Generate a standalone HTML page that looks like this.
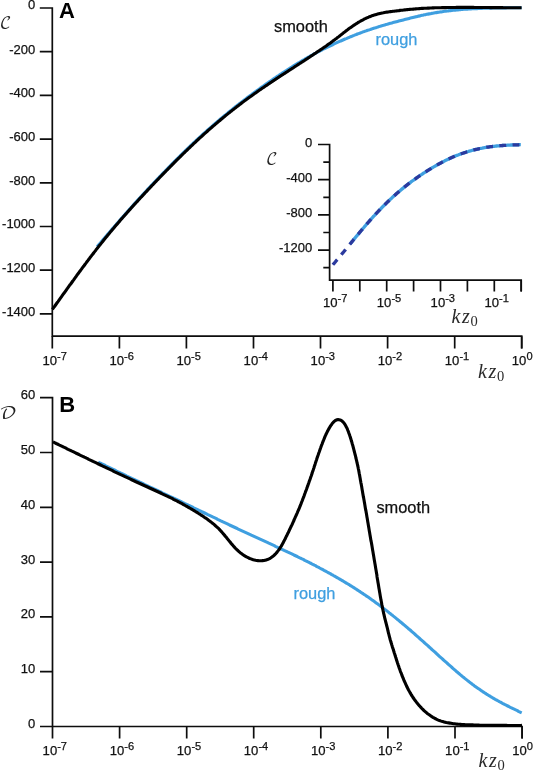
<!DOCTYPE html>
<html lang="en"><head><meta charset="utf-8"><title>Figure</title>
<style>
html,body{margin:0;padding:0;background:#fff;overflow:hidden;}
svg{display:block;}
text{font-family:"Liberation Sans",sans-serif;fill:#111;stroke:#111;stroke-width:0.25px;}
.tk{font-size:13px;}
.tx{font-size:13.1px;}
.sup{font-size:11.1px;}
.lab{font-size:16.4px;}
.pan{font-size:22px;font-weight:bold;fill:#000;stroke:none;}
.math{stroke:none;font-family:"Liberation Serif","DejaVu Serif",serif;font-style:italic;font-size:20px;fill:#2a2a2a;}
.cal{stroke:none;font-family:"DejaVu Math TeX Gyre","DejaVu Serif",serif;font-size:16px;fill:#222;}
.ax{stroke:#0d0d0d;stroke-width:1.7;fill:none;}
.cv{fill:none;stroke-linejoin:round;}
</style></head><body>
<svg width="533" height="771" viewBox="0 0 533 771">
<rect width="533" height="771" fill="#fff"/>

<g id="panelA">
<path class="ax" d="M39.8 8.0 H52.3 V336.2 H521.7 V348.4"/>
<path class="ax" d="M39.8 51.7 H52.3 M39.8 95.4 H52.3 M39.8 139.1 H52.3 M39.8 182.8 H52.3 M39.8 226.5 H52.3 M39.8 270.2 H52.3 M39.8 313.9 H52.3 M52.3 336.2 V348.4 M119.4 336.2 V348.4 M186.4 336.2 V348.4 M253.5 336.2 V348.4 M320.5 336.2 V348.4 M387.6 336.2 V348.4 M454.7 336.2 V348.4 M521.7 336.2 V348.4 "/>
<text class="tk" x="35.3" y="9.4" text-anchor="end">0</text>
<text class="tk" x="35.3" y="53.6" text-anchor="end">-200</text>
<text class="tk" x="35.3" y="97.3" text-anchor="end">-400</text>
<text class="tk" x="35.3" y="141.0" text-anchor="end">-600</text>
<text class="tk" x="35.3" y="184.7" text-anchor="end">-800</text>
<text class="tk" x="35.3" y="228.4" text-anchor="end">-1000</text>
<text class="tk" x="35.3" y="272.1" text-anchor="end">-1200</text>
<text class="tk" x="35.3" y="315.8" text-anchor="end">-1400</text>
<text class="tx" x="42.4" y="364.6">10<tspan class="sup" dy="-4.8">-7</tspan></text>
<text class="tx" x="109.5" y="364.6">10<tspan class="sup" dy="-4.8">-6</tspan></text>
<text class="tx" x="176.5" y="364.6">10<tspan class="sup" dy="-4.8">-5</tspan></text>
<text class="tx" x="243.6" y="364.6">10<tspan class="sup" dy="-4.8">-4</tspan></text>
<text class="tx" x="310.6" y="364.6">10<tspan class="sup" dy="-4.8">-3</tspan></text>
<text class="tx" x="377.7" y="364.6">10<tspan class="sup" dy="-4.8">-2</tspan></text>
<text class="tx" x="444.8" y="364.6">10<tspan class="sup" dy="-4.8">-1</tspan></text>
<text class="tx" x="511.8" y="364.6">10<tspan class="sup" dy="-4.8">0</tspan></text>
<path class="cv" d="M97.1 246.7 L97.9 245.8 L98.7 244.9 L99.5 244.0 L100.3 243.1 L101.0 242.2 L101.8 241.2 L102.6 240.3 L103.4 239.4 L104.2 238.5 L105.0 237.6 L105.7 236.7 L106.5 235.7 L107.3 234.8 L108.1 233.9 L108.9 233.0 L109.7 232.1 L110.4 231.2 L111.2 230.3 L112.0 229.3 L112.8 228.4 L113.6 227.5 L114.4 226.6 L115.2 225.7 L116.0 224.8 L116.7 223.9 L117.5 223.0 L118.3 222.1 L119.1 221.1 L119.9 220.2 L120.7 219.3 L121.5 218.4 L122.3 217.5 L123.1 216.6 L123.9 215.7 L124.7 214.8 L125.5 213.9 L126.3 213.0 L127.1 212.1 L127.9 211.2 L128.7 210.3 L129.5 209.4 L130.3 208.5 L131.1 207.6 L131.9 206.7 L132.7 205.8 L133.5 204.9 L134.3 204.0 L135.1 203.1 L135.9 202.2 L136.7 201.3 L137.5 200.4 L138.3 199.6 L139.2 198.7 L140.0 197.8 L140.8 196.9 L141.6 196.0 L142.4 195.1 L143.2 194.2 L144.0 193.3 L144.9 192.5 L145.7 191.6 L146.5 190.7 L147.3 189.8 L148.1 188.9 L149.0 188.0 L149.8 187.2 L150.6 186.3 L151.4 185.4 L152.3 184.5 L153.1 183.7 L153.9 182.8 L154.8 181.9 L155.6 181.0 L156.4 180.2 L157.2 179.3 L158.1 178.4 L158.9 177.6 L159.7 176.7 L160.6 175.8 L161.4 175.0 L162.2 174.1 L163.1 173.2 L163.9 172.4 L164.8 171.5 L165.6 170.6 L166.4 169.8 L167.3 168.9 L168.1 168.0 L169.0 167.2 L169.8 166.3 L170.7 165.5 L171.5 164.6 L172.3 163.7 L173.2 162.9 L174.0 162.0 L174.9 161.2 L175.7 160.3 L176.6 159.5 L177.4 158.6 L178.3 157.8 L179.1 156.9 L180.0 156.1 L180.9 155.2 L181.7 154.4 L182.6 153.5 L183.4 152.7 L184.3 151.9 L185.1 151.0 L186.0 150.2 L186.9 149.3 L187.7 148.5 L188.6 147.7 L189.5 146.8 L190.3 146.0 L191.2 145.2 L192.1 144.3 L193.0 143.5 L193.8 142.7 L194.7 141.9 L195.6 141.1 L196.5 140.2 L197.4 139.4 L198.2 138.6 L199.1 137.8 L200.0 137.0 L200.9 136.2 L201.8 135.3 L202.7 134.5 L203.6 133.7 L204.5 132.9 L205.4 132.1 L206.3 131.3 L207.2 130.5 L208.1 129.7 L209.0 128.9 L209.9 128.1 L210.8 127.3 L211.7 126.6 L212.6 125.8 L213.5 125.0 L214.4 124.2 L215.3 123.4 L216.2 122.6 L217.1 121.8 L218.1 121.1 L219.0 120.3 L219.9 119.5 L220.8 118.7 L221.7 118.0 L222.7 117.2 L223.6 116.4 L224.5 115.6 L225.5 114.9 L226.4 114.1 L227.3 113.4 L228.2 112.6 L229.2 111.8 L230.1 111.1 L231.1 110.3 L232.0 109.6 L232.9 108.8 L233.9 108.1 L234.8 107.3 L235.8 106.6 L236.7 105.8 L237.7 105.1 L238.6 104.3 L239.6 103.6 L240.5 102.9 L241.5 102.1 L242.4 101.4 L243.4 100.7 L244.3 99.9 L245.3 99.2 L246.3 98.5 L247.2 97.8 L248.2 97.0 L249.2 96.3 L250.1 95.6 L251.1 94.9 L252.1 94.2 L253.0 93.4 L254.0 92.7 L255.0 92.0 L256.0 91.3 L256.9 90.6 L257.9 89.9 L258.9 89.2 L259.9 88.5 L260.8 87.8 L261.8 87.1 L262.8 86.4 L263.8 85.7 L264.8 85.0 L265.8 84.3 L266.8 83.6 L267.7 82.9 L268.7 82.3 L269.7 81.6 L270.7 80.9 L271.7 80.2 L272.7 79.5 L273.7 78.8 L274.7 78.2 L275.7 77.5 L276.7 76.8 L277.7 76.1 L278.7 75.5 L279.7 74.8 L280.7 74.1 L281.7 73.5 L282.7 72.8 L283.8 72.2 L284.8 71.5 L285.8 70.9 L286.8 70.2 L287.8 69.6 L288.8 68.9 L289.8 68.3 L290.9 67.6 L291.9 67.0 L292.9 66.3 L293.9 65.7 L294.9 65.1 L296.0 64.4 L297.0 63.8 L298.0 63.2 L299.1 62.6 L300.1 62.0 L301.1 61.3 L302.2 60.7 L303.2 60.1 L304.3 59.5 L305.3 58.9 L306.3 58.3 L307.4 57.7 L308.4 57.1 L309.5 56.5 L310.5 56.0 L311.6 55.4 L312.6 54.8 L313.7 54.2 L314.8 53.6 L315.8 53.1 L316.9 52.5 L318.0 51.9 L319.0 51.4 L320.1 50.8 L321.2 50.3 L322.2 49.7 L323.3 49.2 L324.4 48.7 L325.5 48.1 L326.5 47.6 L327.6 47.1 L328.7 46.5 L329.8 46.0 L330.9 45.5 L332.0 45.0 L333.1 44.5 L334.1 43.9 L335.2 43.4 L336.3 42.9 L337.4 42.4 L338.5 41.9 L339.6 41.4 L340.7 41.0 L341.8 40.5 L342.9 40.0 L344.0 39.5 L345.1 39.0 L346.3 38.6 L347.4 38.1 L348.5 37.6 L349.6 37.2 L350.7 36.7 L351.8 36.3 L352.9 35.8 L354.0 35.4 L355.2 34.9 L356.3 34.5 L357.4 34.0 L358.5 33.6 L359.7 33.2 L360.8 32.8 L361.9 32.4 L363.0 31.9 L364.2 31.5 L365.3 31.1 L366.5 30.7 L367.6 30.3 L368.7 30.0 L369.9 29.6 L371.0 29.2 L372.2 28.8 L373.3 28.4 L374.4 28.1 L375.6 27.7 L376.7 27.4 L377.9 27.0 L379.0 26.6 L380.2 26.3 L381.3 25.9 L382.5 25.6 L383.7 25.3 L384.8 24.9 L386.0 24.6 L387.1 24.3 L388.3 23.9 L389.4 23.6 L390.6 23.3 L391.8 23.0 L392.9 22.6 L394.1 22.3 L395.3 22.0 L396.4 21.7 L397.6 21.4 L398.7 21.1 L399.9 20.8 L401.1 20.5 L402.2 20.2 L403.4 19.9 L404.6 19.6 L405.7 19.3 L406.9 19.0 L408.1 18.7 L409.2 18.4 L410.4 18.1 L411.6 17.8 L412.8 17.5 L413.9 17.2 L415.1 16.9 L416.3 16.7 L417.4 16.4 L418.6 16.1 L419.8 15.9 L421.0 15.6 L422.1 15.3 L423.3 15.1 L424.5 14.8 L425.7 14.6 L426.8 14.3 L428.0 14.1 L429.2 13.9 L430.4 13.7 L431.6 13.4 L432.8 13.2 L433.9 13.0 L435.1 12.8 L436.3 12.6 L437.5 12.4 L438.7 12.2 L439.9 12.0 L441.1 11.9 L442.2 11.7 L443.4 11.5 L444.6 11.3 L445.8 11.2 L447.0 11.0 L448.2 10.9 L449.4 10.7 L450.6 10.6 L451.8 10.5 L453.0 10.3 L454.2 10.2 L455.4 10.1 L456.6 10.0 L457.8 9.9 L459.0 9.7 L460.2 9.6 L461.4 9.5 L462.6 9.4 L463.8 9.3 L465.0 9.3 L466.2 9.2 L467.4 9.1 L468.6 9.0 L469.8 8.9 L471.0 8.9 L472.2 8.8 L473.4 8.7 L474.6 8.7 L475.8 8.6 L477.0 8.6 L478.2 8.5 L479.4 8.5 L480.6 8.4 L481.8 8.4 L483.0 8.3 L484.2 8.3 L485.4 8.2 L486.6 8.2 L487.8 8.2 L489.0 8.1 L490.2 8.1 L491.4 8.1 L492.6 8.0 L493.8 8.0 L495.0 8.0 L496.3 8.0 L497.5 8.0 L498.7 7.9 L499.9 7.9 L501.1 7.9 L502.3 7.9 L503.5 7.9 L504.7 7.9 L505.9 7.9 L507.1 7.8 L508.3 7.8 L509.5 7.8 L510.7 7.8 L511.9 7.8 L513.1 7.8 L514.4 7.8 L515.6 7.8 L516.8 7.8 L518.0 7.8 L519.2 7.8 L520.4 7.8 L521.6 7.8" stroke="#3f9fe0" stroke-width="3.1"/>
<path class="cv" d="M52.4 309.4 L53.1 308.4 L53.8 307.4 L54.5 306.5 L55.2 305.5 L55.9 304.5 L56.6 303.5 L57.3 302.5 L58.0 301.6 L58.7 300.6 L59.4 299.6 L60.1 298.6 L60.8 297.6 L61.5 296.7 L62.2 295.7 L62.9 294.7 L63.6 293.7 L64.3 292.8 L65.0 291.8 L65.7 290.8 L66.4 289.8 L67.1 288.8 L67.8 287.9 L68.5 286.9 L69.2 285.9 L69.9 284.9 L70.7 284.0 L71.4 283.0 L72.1 282.0 L72.8 281.0 L73.5 280.1 L74.2 279.1 L74.9 278.1 L75.6 277.1 L76.3 276.2 L77.0 275.2 L77.7 274.2 L78.4 273.3 L79.1 272.3 L79.9 271.3 L80.6 270.3 L81.3 269.4 L82.0 268.4 L82.7 267.4 L83.4 266.5 L84.2 265.5 L84.9 264.5 L85.6 263.6 L86.3 262.6 L87.0 261.6 L87.8 260.7 L88.5 259.7 L89.2 258.8 L89.9 257.8 L90.7 256.8 L91.4 255.9 L92.1 254.9 L92.9 254.0 L93.6 253.0 L94.3 252.1 L95.1 251.1 L95.8 250.2 L96.5 249.2 L97.3 248.3 L98.0 247.3 L98.8 246.4 L99.5 245.4 L100.3 244.5 L101.0 243.6 L101.8 242.6 L102.5 241.7 L103.3 240.7 L104.0 239.8 L104.8 238.9 L105.5 237.9 L106.3 237.0 L107.1 236.1 L107.8 235.1 L108.6 234.2 L109.4 233.3 L110.1 232.4 L110.9 231.4 L111.7 230.5 L112.4 229.6 L113.2 228.7 L114.0 227.8 L114.8 226.8 L115.5 225.9 L116.3 225.0 L117.1 224.1 L117.9 223.2 L118.7 222.3 L119.5 221.4 L120.2 220.4 L121.0 219.5 L121.8 218.6 L122.6 217.7 L123.4 216.8 L124.2 215.9 L125.0 215.0 L125.8 214.1 L126.6 213.2 L127.4 212.3 L128.2 211.4 L129.0 210.5 L129.8 209.6 L130.6 208.7 L131.4 207.8 L132.2 206.9 L133.0 206.0 L133.8 205.1 L134.6 204.2 L135.4 203.4 L136.2 202.5 L137.1 201.6 L137.9 200.7 L138.7 199.8 L139.5 198.9 L140.3 198.0 L141.1 197.2 L142.0 196.3 L142.8 195.4 L143.6 194.5 L144.4 193.6 L145.2 192.7 L146.1 191.9 L146.9 191.0 L147.7 190.1 L148.5 189.2 L149.4 188.4 L150.2 187.5 L151.0 186.6 L151.8 185.7 L152.7 184.9 L153.5 184.0 L154.3 183.1 L155.2 182.2 L156.0 181.4 L156.8 180.5 L157.7 179.6 L158.5 178.8 L159.3 177.9 L160.2 177.0 L161.0 176.2 L161.8 175.3 L162.7 174.4 L163.5 173.6 L164.4 172.7 L165.2 171.9 L166.0 171.0 L166.9 170.1 L167.7 169.3 L168.6 168.4 L169.4 167.6 L170.3 166.7 L171.1 165.8 L172.0 165.0 L172.8 164.1 L173.6 163.3 L174.5 162.4 L175.3 161.6 L176.2 160.7 L177.0 159.9 L177.9 159.0 L178.8 158.2 L179.6 157.3 L180.5 156.5 L181.3 155.6 L182.2 154.8 L183.0 153.9 L183.9 153.1 L184.7 152.3 L185.6 151.4 L186.5 150.6 L187.3 149.8 L188.2 148.9 L189.1 148.1 L189.9 147.3 L190.8 146.4 L191.7 145.6 L192.6 144.8 L193.4 143.9 L194.3 143.1 L195.2 142.3 L196.1 141.5 L196.9 140.7 L197.8 139.8 L198.7 139.0 L199.6 138.2 L200.5 137.4 L201.4 136.6 L202.2 135.8 L203.1 135.0 L204.0 134.2 L204.9 133.4 L205.8 132.6 L206.7 131.8 L207.6 131.0 L208.5 130.2 L209.4 129.4 L210.3 128.6 L211.2 127.8 L212.1 127.0 L213.0 126.2 L214.0 125.4 L214.9 124.7 L215.8 123.9 L216.7 123.1 L217.6 122.3 L218.5 121.5 L219.5 120.8 L220.4 120.0 L221.3 119.2 L222.2 118.5 L223.1 117.7 L224.1 116.9 L225.0 116.2 L225.9 115.4 L226.9 114.6 L227.8 113.9 L228.7 113.1 L229.7 112.4 L230.6 111.6 L231.6 110.9 L232.5 110.1 L233.4 109.4 L234.4 108.7 L235.3 107.9 L236.3 107.2 L237.2 106.4 L238.2 105.7 L239.1 105.0 L240.1 104.3 L241.1 103.5 L242.0 102.8 L243.0 102.1 L243.9 101.4 L244.9 100.6 L245.9 99.9 L246.8 99.2 L247.8 98.5 L248.8 97.8 L249.8 97.1 L250.7 96.4 L251.7 95.7 L252.7 95.0 L253.7 94.3 L254.6 93.6 L255.6 92.9 L256.6 92.2 L257.6 91.5 L258.6 90.8 L259.6 90.1 L260.6 89.4 L261.5 88.8 L262.5 88.1 L263.5 87.4 L264.5 86.7 L265.5 86.0 L266.5 85.4 L267.5 84.7 L268.5 84.0 L269.5 83.3 L270.5 82.7 L271.5 82.0 L272.5 81.3 L273.5 80.7 L274.5 80.0 L275.5 79.3 L276.5 78.7 L277.5 78.0 L278.5 77.3 L279.5 76.7 L280.5 76.0 L281.5 75.3 L282.6 74.7 L283.6 74.0 L284.6 73.4 L285.6 72.7 L286.6 72.1 L287.6 71.4 L288.6 70.7 L289.6 70.1 L290.6 69.4 L291.6 68.8 L292.7 68.1 L293.7 67.5 L294.7 66.8 L295.7 66.1 L296.7 65.5 L297.7 64.8 L298.7 64.2 L299.7 63.5 L300.7 62.9 L301.7 62.2 L302.8 61.6 L303.8 60.9 L304.8 60.2 L305.8 59.6 L306.8 58.9 L307.8 58.3 L308.8 57.6 L309.8 57.0 L310.8 56.3 L311.8 55.6 L312.8 55.0 L313.8 54.3 L314.8 53.6 L315.8 53.0 L316.8 52.3 L317.8 51.6 L318.8 50.9 L319.8 50.3 L320.8 49.6 L321.8 48.9 L322.8 48.2 L323.8 47.5 L324.8 46.9 L325.8 46.2 L326.8 45.5 L327.7 44.8 L328.7 44.1 L329.7 43.4 L330.7 42.7 L331.6 42.0 L332.6 41.3 L333.6 40.5 L334.6 39.8 L335.5 39.1 L336.5 38.4 L337.4 37.6 L338.4 36.9 L339.3 36.2 L340.3 35.4 L341.2 34.7 L342.2 33.9 L343.1 33.2 L344.0 32.4 L345.0 31.7 L345.9 31.0 L346.9 30.2 L347.9 29.5 L348.8 28.8 L349.8 28.1 L350.8 27.4 L351.8 26.7 L352.8 26.0 L353.8 25.3 L354.8 24.7 L355.8 24.0 L356.8 23.4 L357.8 22.7 L358.8 22.1 L359.9 21.5 L360.9 20.9 L362.0 20.3 L363.0 19.8 L364.1 19.2 L365.2 18.7 L366.3 18.1 L367.4 17.6 L368.5 17.2 L369.6 16.7 L370.7 16.3 L371.8 15.8 L373.0 15.4 L374.1 15.1 L375.2 14.7 L376.4 14.4 L377.6 14.1 L378.7 13.8 L379.9 13.5 L381.1 13.2 L382.2 13.0 L383.4 12.8 L384.6 12.5 L385.8 12.3 L387.0 12.1 L388.2 12.0 L389.4 11.8 L390.6 11.6 L391.8 11.5 L393.0 11.3 L394.2 11.2 L395.3 11.0 L396.5 10.9 L397.7 10.7 L398.9 10.6 L400.1 10.4 L401.3 10.3 L402.5 10.2 L403.7 10.0 L404.9 9.9 L406.1 9.8 L407.3 9.6 L408.5 9.5 L409.7 9.4 L410.9 9.3 L412.1 9.2 L413.3 9.1 L414.5 9.0 L415.7 8.9 L416.9 8.8 L418.1 8.7 L419.3 8.6 L420.5 8.5 L421.7 8.4 L422.9 8.4 L424.1 8.3 L425.3 8.2 L426.5 8.2 L427.7 8.1 L428.9 8.1 L430.1 8.0 L431.3 8.0 L432.5 7.9 L433.7 7.9 L434.9 7.8 L436.1 7.8 L437.3 7.8 L438.5 7.7 L439.7 7.7 L440.9 7.7 L442.1 7.6 L443.3 7.6 L444.5 7.6 L445.7 7.6 L446.9 7.5 L448.1 7.5 L449.3 7.5 L450.5 7.5 L451.7 7.5 L453.0 7.5 L454.2 7.5 L455.4 7.5 L456.6 7.4 L457.8 7.4 L459.0 7.4 L460.2 7.4 L461.4 7.4 L462.6 7.4 L463.8 7.4 L465.0 7.4 L466.2 7.4 L467.4 7.4 L468.6 7.4 L469.8 7.4 L471.0 7.4 L472.2 7.4 L473.4 7.4 L474.6 7.5 L475.8 7.5 L477.0 7.5 L478.2 7.5 L479.4 7.5 L480.7 7.5 L481.9 7.5 L483.1 7.5 L484.3 7.5 L485.5 7.5 L486.7 7.5 L487.9 7.5 L489.1 7.5 L490.3 7.6 L491.5 7.6 L492.7 7.6 L493.9 7.6 L495.1 7.6 L496.3 7.6 L497.5 7.6 L498.7 7.6 L499.9 7.6 L501.1 7.6 L502.3 7.6 L503.5 7.7 L504.7 7.7 L505.9 7.7 L507.1 7.7 L508.4 7.7 L509.6 7.7 L510.8 7.7 L512.0 7.7 L513.2 7.7 L514.4 7.7 L515.6 7.8 L516.8 7.8 L518.0 7.8 L519.2 7.8 L520.4 7.8 L521.6 7.8" stroke="#000" stroke-width="3.1"/>
<text class="lab" x="274" y="32">smooth</text>
<text class="lab" x="375.5" y="45.2" style="fill:#3f9fe0;stroke:#3f9fe0">rough</text>
<text class="pan" x="59.0" y="17.7">A</text>
<text class="cal" x="-0.3" y="29.4" font-size="17.2px">𝒞</text>
<text class="math" x="478" y="377.8" letter-spacing="1.6">kz<tspan font-size="14.5px" font-style="normal" dy="3.4" dx="-0.9">0</tspan></text>
<path class="ax" d="M318.0 144.5 H329.6 V280.2 H521.2 V291.4"/>
<path class="ax" d="M323.3 162.1 H329.6 M318.0 179.7 H329.6 M323.3 197.3 H329.6 M318.0 214.9 H329.6 M323.3 232.5 H329.6 M318.0 250.1 H329.6 M323.3 267.7 H329.6 M332.9 280.2 V291.4 M359.8 280.2 V291.4 M386.7 280.2 V291.4 M413.6 280.2 V291.4 M440.5 280.2 V291.4 M467.4 280.2 V291.4 M494.3 280.2 V291.4 M521.2 280.2 V291.4 "/>
<text class="tk" x="312.2" y="146.5" text-anchor="end">0</text>
<text class="tk" x="312.2" y="181.7" text-anchor="end">-400</text>
<text class="tk" x="312.2" y="216.9" text-anchor="end">-800</text>
<text class="tk" x="312.2" y="252.1" text-anchor="end">-1200</text>
<text class="tx" x="323.0" y="306.7">10<tspan class="sup" dy="-4.8">-7</tspan></text>
<text class="tx" x="376.8" y="306.7">10<tspan class="sup" dy="-4.8">-5</tspan></text>
<text class="tx" x="430.6" y="306.7">10<tspan class="sup" dy="-4.8">-3</tspan></text>
<text class="tx" x="484.4" y="306.7">10<tspan class="sup" dy="-4.8">-1</tspan></text>
<path class="cv" d="M350.3 243.8 L351.0 242.9 L351.8 242.0 L352.6 241.0 L353.3 240.1 L354.1 239.1 L354.9 238.2 L355.6 237.3 L356.4 236.3 L357.2 235.4 L357.9 234.5 L358.7 233.6 L359.5 232.6 L360.3 231.7 L361.0 230.8 L361.8 229.8 L362.6 228.9 L363.4 228.0 L364.2 227.1 L364.9 226.2 L365.7 225.3 L366.5 224.3 L367.3 223.4 L368.1 222.5 L368.9 221.6 L369.7 220.7 L370.5 219.8 L371.3 218.9 L372.1 218.0 L372.9 217.1 L373.7 216.2 L374.6 215.3 L375.4 214.4 L376.2 213.5 L377.0 212.7 L377.9 211.8 L378.7 210.9 L379.5 210.0 L380.4 209.2 L381.2 208.3 L382.0 207.4 L382.9 206.6 L383.7 205.7 L384.6 204.9 L385.5 204.0 L386.3 203.2 L387.2 202.3 L388.1 201.5 L388.9 200.7 L389.8 199.8 L390.7 199.0 L391.6 198.2 L392.4 197.4 L393.3 196.5 L394.2 195.7 L395.1 194.9 L396.0 194.1 L396.9 193.3 L397.9 192.5 L398.8 191.7 L399.7 191.0 L400.6 190.2 L401.5 189.4 L402.5 188.6 L403.4 187.9 L404.3 187.1 L405.3 186.4 L406.2 185.6 L407.2 184.9 L408.1 184.1 L409.1 183.4 L410.1 182.7 L411.0 181.9 L412.0 181.2 L413.0 180.5 L414.0 179.8 L414.9 179.1 L415.9 178.4 L416.9 177.7 L417.9 177.0 L418.9 176.3 L419.9 175.6 L420.9 174.9 L421.9 174.3 L422.9 173.6 L423.9 172.9 L424.9 172.3 L426.0 171.6 L427.0 171.0 L428.0 170.3 L429.0 169.7 L430.1 169.1 L431.1 168.4 L432.1 167.8 L433.2 167.2 L434.2 166.6 L435.3 166.0 L436.3 165.4 L437.4 164.8 L438.4 164.2 L439.5 163.6 L440.6 163.1 L441.6 162.5 L442.7 161.9 L443.8 161.4 L444.8 160.8 L445.9 160.3 L447.0 159.8 L448.1 159.2 L449.2 158.7 L450.3 158.2 L451.4 157.7 L452.5 157.2 L453.6 156.8 L454.7 156.3 L455.8 155.8 L456.9 155.4 L458.1 155.0 L459.2 154.5 L460.3 154.1 L461.4 153.7 L462.6 153.3 L463.7 152.9 L464.9 152.5 L466.0 152.2 L467.1 151.8 L468.3 151.5 L469.4 151.1 L470.6 150.8 L471.8 150.5 L472.9 150.2 L474.1 149.9 L475.3 149.6 L476.4 149.3 L477.6 149.0 L478.8 148.8 L480.0 148.5 L481.1 148.3 L482.3 148.1 L483.5 147.8 L484.7 147.6 L485.9 147.4 L487.1 147.2 L488.3 147.1 L489.5 146.9 L490.6 146.7 L491.8 146.6 L493.0 146.4 L494.2 146.3 L495.4 146.1 L496.6 146.0 L497.8 145.9 L499.0 145.8 L500.2 145.7 L501.5 145.6 L502.7 145.5 L503.9 145.4 L505.1 145.3 L506.3 145.3 L507.5 145.2 L508.7 145.1 L509.9 145.1 L511.1 145.0 L512.3 145.0 L513.5 144.9 L514.7 144.9 L515.9 144.9 L517.2 144.8 L518.4 144.8 L519.6 144.7 L520.8 144.7" stroke="#3f9fe0" stroke-width="3.3"/>
<path class="cv" d="M332.9 264.8 L333.7 263.8 L334.5 262.9 L335.3 262.0 L336.0 261.1 L336.8 260.1 L337.6 259.2 L338.4 258.3 L339.1 257.3 L339.9 256.4 L340.7 255.5 L341.5 254.5 L342.2 253.6 L343.0 252.7 L343.8 251.7 L344.5 250.8 L345.3 249.9 L346.1 248.9 L346.8 248.0 L347.6 247.1 L348.4 246.1 L349.1 245.2 L349.9 244.2 L350.7 243.3 L351.4 242.4 L352.2 241.4 L353.0 240.5 L353.7 239.6 L354.5 238.6 L355.3 237.7 L356.0 236.8 L356.8 235.8 L357.6 234.9 L358.4 234.0 L359.1 233.0 L359.9 232.1 L360.7 231.2 L361.5 230.2 L362.3 229.3 L363.0 228.4 L363.8 227.5 L364.6 226.5 L365.4 225.6 L366.2 224.7 L367.0 223.8 L367.8 222.9 L368.6 222.0 L369.4 221.1 L370.2 220.2 L371.0 219.2 L371.8 218.3 L372.6 217.4 L373.4 216.6 L374.2 215.7 L375.1 214.8 L375.9 213.9 L376.7 213.0 L377.5 212.1 L378.4 211.2 L379.2 210.4 L380.1 209.5 L380.9 208.6 L381.7 207.7 L382.6 206.9 L383.4 206.0 L384.3 205.2 L385.2 204.3 L386.0 203.5 L386.9 202.6 L387.8 201.8 L388.6 200.9 L389.5 200.1 L390.4 199.3 L391.3 198.4 L392.2 197.6 L393.1 196.8 L393.9 196.0 L394.8 195.2 L395.8 194.4 L396.7 193.6 L397.6 192.8 L398.5 192.0 L399.4 191.2 L400.3 190.4 L401.3 189.6 L402.2 188.9 L403.1 188.1 L404.1 187.3 L405.0 186.6 L406.0 185.8 L406.9 185.1 L407.9 184.3 L408.8 183.6 L409.8 182.9 L410.8 182.1 L411.7 181.4 L412.7 180.7 L413.7 180.0 L414.7 179.3 L415.7 178.6 L416.7 177.9 L417.7 177.2 L418.6 176.5 L419.6 175.8 L420.7 175.1 L421.7 174.4 L422.7 173.8 L423.7 173.1 L424.7 172.4 L425.7 171.8 L426.7 171.1 L427.8 170.5 L428.8 169.8 L429.8 169.2 L430.9 168.6 L431.9 167.9 L433.0 167.3 L434.0 166.7 L435.1 166.1 L436.1 165.5 L437.2 164.9 L438.2 164.3 L439.3 163.7 L440.3 163.2 L441.4 162.6 L442.5 162.0 L443.6 161.5 L444.6 160.9 L445.7 160.4 L446.8 159.9 L447.9 159.3 L449.0 158.8 L450.1 158.3 L451.2 157.8 L452.3 157.3 L453.4 156.8 L454.5 156.4 L455.6 155.9 L456.8 155.5 L457.9 155.0 L459.0 154.6 L460.1 154.2 L461.3 153.7 L462.4 153.3 L463.6 153.0 L464.7 152.6 L465.9 152.2 L467.0 151.8 L468.2 151.5 L469.3 151.2 L470.5 150.8 L471.6 150.5 L472.8 150.2 L474.0 149.9 L475.1 149.6 L476.3 149.3 L477.5 149.1 L478.7 148.8 L479.9 148.5 L481.0 148.3 L482.2 148.1 L483.4 147.9 L484.6 147.6 L485.8 147.4 L487.0 147.2 L488.2 147.1 L489.4 146.9 L490.6 146.7 L491.8 146.6 L493.0 146.4 L494.2 146.3 L495.4 146.1 L496.6 146.0 L497.8 145.9 L499.0 145.8 L500.2 145.7 L501.4 145.6 L502.6 145.5 L503.8 145.4 L505.0 145.3 L506.2 145.3 L507.4 145.2 L508.7 145.1 L509.9 145.1 L511.1 145.0 L512.3 145.0 L513.5 144.9 L514.7 144.9 L515.9 144.9 L517.1 144.8 L518.4 144.8 L519.6 144.7 L520.8 144.7" stroke="#2b3a9e" stroke-width="3.3" stroke-dasharray="6.8 6.4"/>
<text class="cal" x="266" y="165">𝒞</text>
<text class="math" x="451.5" y="322.8" letter-spacing="1.6">kz<tspan font-size="14.5px" font-style="normal" dy="3.4" dx="-0.9">0</tspan></text>
</g>
<g id="panelB">
<path class="ax" d="M40.0 397.7 H52.5 V726.5 M40.0 726.5 H522.1 V738.5"/>
<path class="ax" d="M40.0 452.5 H52.5 M40.0 507.3 H52.5 M40.0 562.1 H52.5 M40.0 616.9 H52.5 M40.0 671.7 H52.5 M52.5 726.5 V738.5 M119.6 726.5 V738.5 M186.7 726.5 V738.5 M253.7 726.5 V738.5 M320.8 726.5 V738.5 M387.9 726.5 V738.5 M455.0 726.5 V738.5 M522.1 726.5 V738.5 "/>
<text class="tk" x="35.2" y="399.2" text-anchor="end">60</text>
<text class="tk" x="35.2" y="454.0" text-anchor="end">50</text>
<text class="tk" x="35.2" y="508.8" text-anchor="end">40</text>
<text class="tk" x="35.2" y="563.6" text-anchor="end">30</text>
<text class="tk" x="35.2" y="618.4" text-anchor="end">20</text>
<text class="tk" x="35.2" y="673.2" text-anchor="end">10</text>
<text class="tk" x="35.2" y="728.0" text-anchor="end">0</text>
<text class="tx" x="42.6" y="754.6">10<tspan class="sup" dy="-4.8">-7</tspan></text>
<text class="tx" x="109.7" y="754.6">10<tspan class="sup" dy="-4.8">-6</tspan></text>
<text class="tx" x="176.8" y="754.6">10<tspan class="sup" dy="-4.8">-5</tspan></text>
<text class="tx" x="243.8" y="754.6">10<tspan class="sup" dy="-4.8">-4</tspan></text>
<text class="tx" x="310.9" y="754.6">10<tspan class="sup" dy="-4.8">-3</tspan></text>
<text class="tx" x="378.0" y="754.6">10<tspan class="sup" dy="-4.8">-2</tspan></text>
<text class="tx" x="445.1" y="754.6">10<tspan class="sup" dy="-4.8">-1</tspan></text>
<text class="tx" x="512.2" y="754.6">10<tspan class="sup" dy="-4.8">0</tspan></text>
<path class="cv" d="M98.2 462.1 L99.2 462.6 L100.3 463.1 L101.4 463.7 L102.5 464.2 L103.6 464.7 L104.7 465.2 L105.7 465.8 L106.8 466.3 L107.9 466.8 L109.0 467.4 L110.1 467.9 L111.1 468.4 L112.2 468.9 L113.3 469.5 L114.4 470.0 L115.5 470.5 L116.6 471.1 L117.6 471.6 L118.7 472.1 L119.8 472.6 L120.9 473.2 L122.0 473.7 L123.1 474.2 L124.1 474.7 L125.2 475.2 L126.3 475.8 L127.4 476.3 L128.5 476.8 L129.6 477.3 L130.6 477.8 L131.7 478.4 L132.8 478.9 L133.9 479.4 L135.0 479.9 L136.1 480.4 L137.2 481.0 L138.3 481.5 L139.3 482.0 L140.4 482.5 L141.5 483.0 L142.6 483.5 L143.7 484.0 L144.8 484.6 L145.9 485.1 L147.0 485.6 L148.1 486.1 L149.1 486.6 L150.2 487.1 L151.3 487.6 L152.4 488.1 L153.5 488.7 L154.6 489.2 L155.7 489.7 L156.8 490.2 L157.9 490.7 L158.9 491.2 L160.0 491.7 L161.1 492.2 L162.2 492.8 L163.3 493.3 L164.4 493.8 L165.5 494.3 L166.6 494.8 L167.7 495.3 L168.7 495.8 L169.8 496.3 L170.9 496.9 L172.0 497.4 L173.1 497.9 L174.2 498.4 L175.3 498.9 L176.4 499.4 L177.4 500.0 L178.5 500.5 L179.6 501.0 L180.7 501.5 L181.8 502.0 L182.9 502.6 L184.0 503.1 L185.0 503.6 L186.1 504.1 L187.2 504.6 L188.3 505.2 L189.4 505.7 L190.5 506.2 L191.6 506.7 L192.6 507.2 L193.7 507.8 L194.8 508.3 L195.9 508.8 L197.0 509.3 L198.1 509.9 L199.1 510.4 L200.2 510.9 L201.3 511.4 L202.4 512.0 L203.5 512.5 L204.6 513.0 L205.6 513.5 L206.7 514.0 L207.8 514.6 L208.9 515.1 L210.0 515.6 L211.1 516.1 L212.2 516.7 L213.2 517.2 L214.3 517.7 L215.4 518.2 L216.5 518.7 L217.6 519.3 L218.7 519.8 L219.8 520.3 L220.8 520.8 L221.9 521.3 L223.0 521.9 L224.1 522.4 L225.2 522.9 L226.3 523.4 L227.4 523.9 L228.4 524.4 L229.5 525.0 L230.6 525.5 L231.7 526.0 L232.8 526.5 L233.9 527.0 L235.0 527.5 L236.1 528.0 L237.2 528.5 L238.2 529.1 L239.3 529.6 L240.4 530.1 L241.5 530.6 L242.6 531.1 L243.7 531.6 L244.8 532.1 L245.9 532.6 L247.0 533.1 L248.1 533.6 L249.2 534.2 L250.3 534.7 L251.3 535.2 L252.4 535.7 L253.5 536.2 L254.6 536.7 L255.7 537.2 L256.8 537.7 L257.9 538.2 L259.0 538.7 L260.1 539.2 L261.2 539.7 L262.3 540.2 L263.4 540.7 L264.5 541.2 L265.6 541.7 L266.7 542.2 L267.8 542.7 L268.8 543.2 L269.9 543.7 L271.0 544.2 L272.1 544.7 L273.2 545.2 L274.3 545.7 L275.4 546.3 L276.5 546.8 L277.6 547.3 L278.7 547.8 L279.8 548.3 L280.9 548.8 L282.0 549.3 L283.1 549.8 L284.1 550.3 L285.2 550.8 L286.3 551.3 L287.4 551.9 L288.5 552.4 L289.6 552.9 L290.7 553.4 L291.8 553.9 L292.8 554.4 L293.9 555.0 L295.0 555.5 L296.1 556.0 L297.2 556.5 L298.3 557.1 L299.3 557.6 L300.4 558.1 L301.5 558.7 L302.6 559.2 L303.7 559.7 L304.7 560.3 L305.8 560.8 L306.9 561.3 L308.0 561.9 L309.0 562.4 L310.1 563.0 L311.2 563.5 L312.2 564.1 L313.3 564.6 L314.4 565.2 L315.5 565.7 L316.5 566.3 L317.6 566.9 L318.7 567.4 L319.7 568.0 L320.8 568.6 L321.8 569.1 L322.9 569.7 L324.0 570.3 L325.0 570.8 L326.1 571.4 L327.1 572.0 L328.2 572.6 L329.2 573.2 L330.3 573.7 L331.3 574.3 L332.4 574.9 L333.4 575.5 L334.5 576.1 L335.5 576.7 L336.6 577.3 L337.6 577.9 L338.7 578.5 L339.7 579.1 L340.7 579.7 L341.8 580.3 L342.8 580.9 L343.8 581.5 L344.9 582.2 L345.9 582.8 L346.9 583.4 L348.0 584.0 L349.0 584.6 L350.0 585.3 L351.0 585.9 L352.0 586.5 L353.1 587.2 L354.1 587.8 L355.1 588.5 L356.1 589.1 L357.1 589.8 L358.1 590.4 L359.1 591.1 L360.1 591.7 L361.1 592.4 L362.1 593.1 L363.1 593.7 L364.1 594.4 L365.1 595.1 L366.1 595.8 L367.1 596.4 L368.1 597.1 L369.1 597.8 L370.1 598.5 L371.1 599.2 L372.0 599.9 L373.0 600.6 L374.0 601.3 L375.0 602.0 L375.9 602.7 L376.9 603.4 L377.9 604.1 L378.8 604.8 L379.8 605.5 L380.8 606.3 L381.7 607.0 L382.7 607.7 L383.6 608.4 L384.6 609.2 L385.6 609.9 L386.5 610.6 L387.5 611.4 L388.4 612.1 L389.3 612.9 L390.3 613.6 L391.2 614.4 L392.2 615.1 L393.1 615.9 L394.0 616.6 L395.0 617.4 L395.9 618.1 L396.8 618.9 L397.8 619.7 L398.7 620.4 L399.6 621.2 L400.6 622.0 L401.5 622.7 L402.4 623.5 L403.3 624.3 L404.3 625.1 L405.2 625.8 L406.1 626.6 L407.0 627.4 L407.9 628.2 L408.8 629.0 L409.8 629.7 L410.7 630.5 L411.6 631.3 L412.5 632.1 L413.4 632.9 L414.3 633.7 L415.2 634.5 L416.1 635.3 L417.0 636.1 L417.9 636.9 L418.8 637.7 L419.7 638.5 L420.6 639.3 L421.5 640.1 L422.4 640.9 L423.3 641.7 L424.2 642.5 L425.1 643.3 L426.0 644.1 L426.9 644.9 L427.8 645.7 L428.7 646.5 L429.6 647.3 L430.5 648.2 L431.4 649.0 L432.3 649.8 L433.2 650.6 L434.1 651.4 L435.0 652.2 L435.9 653.0 L436.8 653.8 L437.6 654.6 L438.5 655.5 L439.4 656.3 L440.3 657.1 L441.2 657.9 L442.1 658.7 L443.0 659.5 L443.9 660.3 L444.8 661.1 L445.7 661.9 L446.6 662.7 L447.5 663.5 L448.4 664.3 L449.3 665.1 L450.2 665.9 L451.1 666.7 L452.0 667.5 L452.9 668.3 L453.8 669.1 L454.7 669.9 L455.6 670.7 L456.5 671.5 L457.4 672.2 L458.3 673.0 L459.3 673.8 L460.2 674.6 L461.1 675.3 L462.0 676.1 L462.9 676.9 L463.9 677.6 L464.8 678.4 L465.7 679.1 L466.7 679.9 L467.6 680.6 L468.5 681.3 L469.5 682.1 L470.4 682.8 L471.4 683.5 L472.3 684.2 L473.3 684.9 L474.2 685.7 L475.2 686.4 L476.2 687.1 L477.1 687.7 L478.1 688.4 L479.1 689.1 L480.1 689.8 L481.1 690.5 L482.0 691.1 L483.0 691.8 L484.0 692.4 L485.0 693.1 L486.0 693.7 L487.0 694.4 L488.0 695.0 L489.0 695.6 L490.1 696.2 L491.1 696.9 L492.1 697.5 L493.1 698.1 L494.1 698.7 L495.2 699.3 L496.2 699.8 L497.2 700.4 L498.3 701.0 L499.3 701.6 L500.4 702.1 L501.4 702.7 L502.5 703.3 L503.5 703.8 L504.6 704.4 L505.6 704.9 L506.7 705.5 L507.8 706.0 L508.8 706.5 L509.9 707.1 L510.9 707.6 L512.0 708.1 L513.1 708.7 L514.2 709.2 L515.2 709.7 L516.3 710.2 L517.4 710.7 L518.4 711.3 L519.5 711.8 L520.6 712.3 L521.7 712.8" stroke="#3f9fe0" stroke-width="3.1"/>
<path class="cv" d="M53.0 441.9 L54.1 442.4 L55.2 443.0 L56.2 443.5 L57.3 444.0 L58.4 444.5 L59.5 445.1 L60.6 445.6 L61.7 446.1 L62.7 446.6 L63.8 447.2 L64.9 447.7 L66.0 448.2 L67.1 448.8 L68.1 449.3 L69.2 449.8 L70.3 450.3 L71.4 450.9 L72.5 451.4 L73.6 451.9 L74.6 452.4 L75.7 453.0 L76.8 453.5 L77.9 454.0 L79.0 454.5 L80.1 455.1 L81.1 455.6 L82.2 456.1 L83.3 456.6 L84.4 457.2 L85.5 457.7 L86.5 458.2 L87.6 458.7 L88.7 459.3 L89.8 459.8 L90.9 460.3 L92.0 460.8 L93.0 461.4 L94.1 461.9 L95.2 462.4 L96.3 462.9 L97.4 463.5 L98.5 464.0 L99.6 464.5 L100.6 465.0 L101.7 465.5 L102.8 466.1 L103.9 466.6 L105.0 467.1 L106.1 467.6 L107.1 468.2 L108.2 468.7 L109.3 469.2 L110.4 469.7 L111.5 470.2 L112.6 470.7 L113.7 471.3 L114.7 471.8 L115.8 472.3 L116.9 472.8 L118.0 473.3 L119.1 473.8 L120.2 474.4 L121.3 474.9 L122.4 475.4 L123.5 475.9 L124.5 476.4 L125.6 476.9 L126.7 477.4 L127.8 477.9 L128.9 478.4 L130.0 478.9 L131.1 479.5 L132.2 480.0 L133.3 480.5 L134.4 481.0 L135.4 481.5 L136.5 482.0 L137.6 482.5 L138.7 483.0 L139.8 483.5 L140.9 484.0 L142.0 484.5 L143.1 485.0 L144.2 485.5 L145.3 486.0 L146.4 486.5 L147.5 487.0 L148.6 487.5 L149.6 488.0 L150.7 488.5 L151.8 489.0 L152.9 489.5 L154.0 490.0 L155.1 490.5 L156.2 491.0 L157.3 491.5 L158.4 492.0 L159.5 492.5 L160.6 493.0 L161.6 493.5 L162.7 494.1 L163.8 494.6 L164.9 495.1 L166.0 495.6 L167.1 496.1 L168.2 496.6 L169.2 497.2 L170.3 497.7 L171.4 498.2 L172.5 498.7 L173.5 499.3 L174.6 499.8 L175.7 500.4 L176.8 500.9 L177.8 501.5 L178.9 502.0 L180.0 502.6 L181.0 503.2 L182.1 503.7 L183.1 504.3 L184.2 504.9 L185.2 505.5 L186.3 506.1 L187.3 506.7 L188.4 507.3 L189.4 507.9 L190.5 508.5 L191.5 509.1 L192.5 509.7 L193.6 510.3 L194.6 510.9 L195.6 511.6 L196.6 512.2 L197.7 512.8 L198.7 513.5 L199.7 514.1 L200.7 514.8 L201.7 515.4 L202.7 516.1 L203.7 516.8 L204.7 517.5 L205.7 518.1 L206.7 518.8 L207.7 519.5 L208.6 520.2 L209.6 520.9 L210.6 521.7 L211.5 522.4 L212.5 523.2 L213.4 523.9 L214.3 524.7 L215.2 525.5 L216.1 526.3 L217.0 527.1 L217.9 527.9 L218.8 528.7 L219.6 529.6 L220.4 530.5 L221.2 531.4 L222.0 532.3 L222.8 533.2 L223.6 534.1 L224.4 535.0 L225.1 536.0 L225.9 536.9 L226.7 537.8 L227.4 538.8 L228.2 539.7 L228.9 540.6 L229.7 541.6 L230.5 542.5 L231.2 543.5 L232.0 544.4 L232.8 545.3 L233.6 546.2 L234.4 547.1 L235.2 548.0 L236.0 548.8 L236.9 549.7 L237.8 550.5 L238.7 551.3 L239.6 552.1 L240.5 552.9 L241.5 553.6 L242.4 554.3 L243.4 555.0 L244.4 555.7 L245.5 556.3 L246.5 556.9 L247.6 557.4 L248.7 558.0 L249.8 558.5 L250.9 558.9 L252.0 559.3 L253.2 559.7 L254.4 560.0 L255.5 560.3 L256.7 560.5 L257.9 560.6 L259.1 560.7 L260.3 560.7 L261.5 560.7 L262.7 560.6 L263.9 560.5 L265.1 560.2 L266.3 559.9 L267.4 559.6 L268.5 559.1 L269.6 558.6 L270.6 558.0 L271.6 557.3 L272.6 556.6 L273.5 555.8 L274.4 555.0 L275.3 554.2 L276.1 553.3 L276.9 552.4 L277.6 551.4 L278.4 550.4 L279.1 549.5 L279.8 548.5 L280.4 547.4 L281.1 546.4 L281.7 545.4 L282.3 544.3 L282.9 543.3 L283.4 542.2 L284.0 541.1 L284.5 540.1 L285.1 539.0 L285.6 537.9 L286.1 536.8 L286.7 535.8 L287.2 534.7 L287.7 533.6 L288.3 532.5 L288.8 531.4 L289.3 530.3 L289.8 529.3 L290.3 528.2 L290.8 527.1 L291.3 526.0 L291.9 524.9 L292.4 523.8 L292.9 522.7 L293.4 521.6 L293.9 520.5 L294.3 519.4 L294.8 518.3 L295.3 517.2 L295.8 516.1 L296.3 515.0 L296.8 513.9 L297.3 512.8 L297.7 511.7 L298.2 510.6 L298.7 509.5 L299.2 508.4 L299.6 507.3 L300.1 506.2 L300.5 505.0 L301.0 503.9 L301.4 502.8 L301.8 501.7 L302.3 500.6 L302.7 499.4 L303.1 498.3 L303.6 497.2 L304.0 496.1 L304.4 494.9 L304.8 493.8 L305.2 492.7 L305.6 491.5 L306.1 490.4 L306.5 489.3 L306.9 488.1 L307.3 487.0 L307.7 485.9 L308.1 484.7 L308.5 483.6 L308.9 482.5 L309.3 481.3 L309.7 480.2 L310.1 479.1 L310.5 477.9 L310.9 476.8 L311.3 475.7 L311.7 474.5 L312.1 473.4 L312.4 472.2 L312.8 471.1 L313.2 470.0 L313.6 468.8 L314.0 467.7 L314.3 466.5 L314.7 465.4 L315.1 464.2 L315.4 463.1 L315.8 461.9 L316.2 460.8 L316.6 459.7 L316.9 458.5 L317.3 457.4 L317.7 456.2 L318.1 455.1 L318.5 453.9 L318.9 452.8 L319.3 451.7 L319.7 450.5 L320.1 449.4 L320.5 448.3 L320.9 447.1 L321.3 446.0 L321.7 444.9 L322.2 443.8 L322.6 442.6 L323.0 441.5 L323.5 440.4 L323.9 439.3 L324.4 438.2 L324.8 437.0 L325.3 435.9 L325.8 434.8 L326.3 433.8 L326.8 432.7 L327.4 431.6 L327.9 430.5 L328.5 429.4 L329.1 428.4 L329.7 427.3 L330.4 426.2 L331.0 425.2 L331.8 424.2 L332.5 423.2 L333.3 422.3 L334.2 421.4 L335.1 420.7 L336.0 420.2 L337.0 419.8 L338.1 419.6 L339.1 419.7 L340.1 419.9 L341.1 420.4 L342.0 421.0 L342.9 421.8 L343.7 422.7 L344.4 423.7 L345.1 424.7 L345.7 425.8 L346.3 426.9 L346.9 428.0 L347.4 429.2 L347.8 430.3 L348.3 431.4 L348.7 432.6 L349.1 433.7 L349.5 434.8 L349.9 436.0 L350.3 437.1 L350.6 438.3 L351.0 439.4 L351.3 440.6 L351.7 441.7 L352.0 442.9 L352.3 444.0 L352.7 445.2 L353.0 446.4 L353.3 447.5 L353.6 448.7 L353.9 449.8 L354.2 451.0 L354.5 452.2 L354.8 453.3 L355.1 454.5 L355.4 455.7 L355.7 456.9 L355.9 458.0 L356.2 459.2 L356.5 460.4 L356.8 461.5 L357.0 462.7 L357.3 463.9 L357.6 465.1 L357.8 466.2 L358.1 467.4 L358.3 468.6 L358.6 469.8 L358.8 470.9 L359.0 472.1 L359.2 473.3 L359.5 474.5 L359.7 475.7 L359.9 476.9 L360.1 478.0 L360.3 479.2 L360.5 480.4 L360.7 481.6 L360.9 482.8 L361.2 484.0 L361.4 485.2 L361.6 486.3 L361.8 487.5 L362.0 488.7 L362.2 489.9 L362.4 491.1 L362.6 492.3 L362.8 493.5 L363.0 494.6 L363.2 495.8 L363.4 497.0 L363.7 498.2 L363.9 499.4 L364.1 500.6 L364.3 501.8 L364.5 502.9 L364.7 504.1 L364.9 505.3 L365.1 506.5 L365.3 507.7 L365.5 508.9 L365.7 510.0 L366.0 511.2 L366.2 512.4 L366.4 513.6 L366.6 514.8 L366.8 516.0 L367.0 517.2 L367.2 518.3 L367.4 519.5 L367.6 520.7 L367.8 521.9 L368.0 523.1 L368.2 524.3 L368.4 525.5 L368.6 526.6 L368.8 527.8 L369.0 529.0 L369.2 530.2 L369.4 531.4 L369.6 532.6 L369.8 533.8 L370.0 535.0 L370.2 536.1 L370.4 537.3 L370.6 538.5 L370.8 539.7 L371.0 540.9 L371.3 542.1 L371.5 543.3 L371.7 544.4 L371.9 545.6 L372.1 546.8 L372.3 548.0 L372.5 549.2 L372.7 550.4 L372.9 551.6 L373.1 552.7 L373.3 553.9 L373.5 555.1 L373.7 556.3 L373.9 557.5 L374.1 558.7 L374.3 559.9 L374.5 561.0 L374.7 562.2 L374.9 563.4 L375.1 564.6 L375.3 565.8 L375.5 567.0 L375.7 568.2 L375.9 569.4 L376.1 570.5 L376.3 571.7 L376.5 572.9 L376.7 574.1 L376.9 575.3 L377.0 576.5 L377.2 577.7 L377.4 578.9 L377.6 580.0 L377.8 581.2 L378.0 582.4 L378.2 583.6 L378.4 584.8 L378.6 586.0 L378.8 587.2 L379.0 588.4 L379.2 589.5 L379.4 590.7 L379.6 591.9 L379.8 593.1 L380.0 594.3 L380.2 595.5 L380.4 596.7 L380.6 597.8 L380.8 599.0 L381.0 600.2 L381.3 601.4 L381.5 602.6 L381.7 603.8 L381.9 604.9 L382.2 606.1 L382.4 607.3 L382.6 608.5 L382.9 609.7 L383.1 610.8 L383.4 612.0 L383.6 613.2 L383.9 614.4 L384.2 615.5 L384.4 616.7 L384.7 617.9 L385.0 619.0 L385.3 620.2 L385.6 621.4 L385.9 622.5 L386.2 623.7 L386.5 624.9 L386.8 626.0 L387.1 627.2 L387.4 628.4 L387.7 629.6 L387.9 630.7 L388.2 631.9 L388.5 633.1 L388.8 634.2 L389.1 635.4 L389.4 636.6 L389.7 637.7 L390.0 638.9 L390.3 640.0 L390.7 641.2 L391.0 642.4 L391.4 643.5 L391.7 644.7 L392.1 645.8 L392.4 647.0 L392.8 648.1 L393.2 649.2 L393.5 650.4 L393.9 651.5 L394.2 652.7 L394.6 653.8 L395.0 655.0 L395.3 656.1 L395.7 657.3 L396.1 658.4 L396.4 659.6 L396.8 660.7 L397.2 661.9 L397.5 663.0 L397.9 664.1 L398.3 665.3 L398.7 666.4 L399.1 667.6 L399.5 668.7 L399.9 669.8 L400.3 671.0 L400.7 672.1 L401.2 673.2 L401.6 674.3 L402.0 675.5 L402.5 676.6 L402.9 677.7 L403.4 678.8 L403.8 679.9 L404.3 681.0 L404.8 682.1 L405.3 683.2 L405.8 684.3 L406.3 685.4 L406.8 686.5 L407.3 687.6 L407.9 688.7 L408.4 689.7 L409.0 690.8 L409.6 691.8 L410.2 692.9 L410.8 693.9 L411.4 695.0 L412.1 696.0 L412.7 697.0 L413.4 698.0 L414.1 699.0 L414.7 700.0 L415.5 700.9 L416.2 701.9 L416.9 702.8 L417.7 703.8 L418.5 704.7 L419.2 705.6 L420.1 706.5 L420.9 707.4 L421.7 708.3 L422.6 709.1 L423.4 710.0 L424.3 710.8 L425.2 711.6 L426.1 712.4 L427.0 713.2 L428.0 713.9 L428.9 714.6 L429.9 715.3 L430.9 716.0 L431.9 716.7 L432.9 717.3 L434.0 717.9 L435.0 718.5 L436.1 719.0 L437.2 719.6 L438.3 720.1 L439.4 720.5 L440.5 720.9 L441.7 721.3 L442.8 721.6 L444.0 721.9 L445.1 722.2 L446.3 722.5 L447.5 722.7 L448.7 722.9 L449.9 723.1 L451.1 723.3 L452.3 723.5 L453.5 723.7 L454.7 723.8 L455.9 724.0 L457.0 724.1 L458.2 724.2 L459.4 724.3 L460.6 724.4 L461.8 724.5 L463.0 724.5 L464.2 724.6 L465.4 724.7 L466.6 724.7 L467.9 724.8 L469.1 724.8 L470.3 724.9 L471.5 724.9 L472.7 724.9 L473.9 725.0 L475.1 725.0 L476.3 725.1 L477.5 725.1 L478.7 725.1 L479.9 725.2 L481.1 725.2 L482.3 725.2 L483.5 725.2 L484.7 725.3 L485.9 725.3 L487.1 725.3 L488.3 725.3 L489.5 725.3 L490.7 725.3 L491.9 725.4 L493.1 725.4 L494.3 725.4 L495.5 725.4 L496.7 725.4 L497.9 725.4 L499.1 725.4 L500.3 725.4 L501.5 725.4 L502.7 725.4 L503.9 725.4 L505.2 725.4 L506.4 725.4 L507.6 725.5 L508.8 725.5 L510.0 725.5 L511.2 725.5 L512.4 725.5 L513.6 725.5 L514.8 725.5 L516.0 725.5 L517.2 725.5 L518.4 725.5 L519.6 725.5 L520.8 725.5 L522.0 725.4" stroke="#000" stroke-width="3.1"/>
<text class="lab" x="376.4" y="513">smooth</text>
<text class="lab" x="293.5" y="599.3" style="fill:#3f9fe0;stroke:#3f9fe0">rough</text>
<text class="pan" x="59.2" y="411.7">B</text>
<text class="cal" transform="translate(-0.8 419) scale(1.2 1)" x="0" y="0">𝒟</text>
<text class="math" x="478.6" y="767.0" letter-spacing="1.6">kz<tspan font-size="14.5px" font-style="normal" dy="3.4" dx="-0.9">0</tspan></text>
</g>
</svg></body></html>
